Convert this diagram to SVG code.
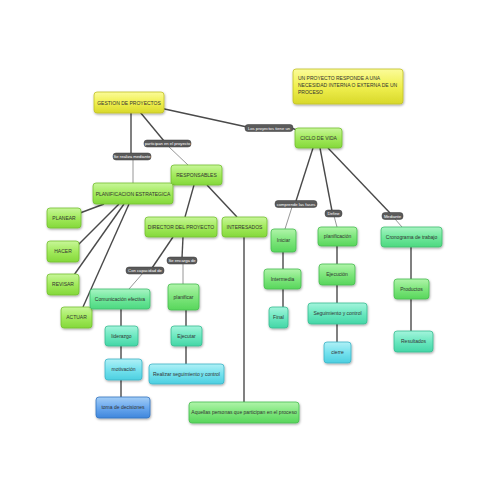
<svg xmlns="http://www.w3.org/2000/svg" width="495" height="495" viewBox="0 0 495 495">
<defs>
<linearGradient id="gY" x1="0" y1="0" x2="0" y2="1"><stop offset="0" stop-color="#fbfb9a"/><stop offset="0.5" stop-color="#f0f050"/><stop offset="1" stop-color="#d8d82a"/></linearGradient>
<linearGradient id="gL" x1="0" y1="0" x2="0" y2="1"><stop offset="0" stop-color="#c8f69a"/><stop offset="0.5" stop-color="#a2ea5c"/><stop offset="1" stop-color="#84d83a"/></linearGradient>
<linearGradient id="gG" x1="0" y1="0" x2="0" y2="1"><stop offset="0" stop-color="#b0f4aa"/><stop offset="0.5" stop-color="#7ee67c"/><stop offset="1" stop-color="#58d65c"/></linearGradient>
<linearGradient id="gM" x1="0" y1="0" x2="0" y2="1"><stop offset="0" stop-color="#a8f4c4"/><stop offset="0.5" stop-color="#70e89c"/><stop offset="1" stop-color="#4cd880"/></linearGradient>
<linearGradient id="gT" x1="0" y1="0" x2="0" y2="1"><stop offset="0" stop-color="#a4f4dc"/><stop offset="0.5" stop-color="#6ce8c0"/><stop offset="1" stop-color="#44d6a6"/></linearGradient>
<linearGradient id="gC" x1="0" y1="0" x2="0" y2="1"><stop offset="0" stop-color="#b0f0f6"/><stop offset="0.5" stop-color="#76e2ee"/><stop offset="1" stop-color="#4ccfe0"/></linearGradient>
<linearGradient id="gB" x1="0" y1="0" x2="0" y2="1"><stop offset="0" stop-color="#a4cef6"/><stop offset="0.5" stop-color="#6aa8ee"/><stop offset="1" stop-color="#3f86dc"/></linearGradient>
<filter id="sh" x="-20%" y="-30%" width="140%" height="170%"><feDropShadow dx="0.6" dy="1.2" stdDeviation="0.9" flood-color="#000" flood-opacity="0.35"/></filter>
</defs>
<style>
.n rect{stroke-width:0.8;filter:url(#sh)}
.y rect{fill:url(#gY);stroke:#c2c226}
.l rect{fill:url(#gL);stroke:#74c030}
.g rect{fill:url(#gG);stroke:#48bc50}
.m rect{fill:url(#gM);stroke:#40be70}
.t rect{fill:url(#gT);stroke:#38bc92}
.c rect{fill:url(#gC);stroke:#3cb4c6}
.b rect{fill:url(#gB);stroke:#3474c0}
.n text{font-family:"Liberation Sans",Arial,sans-serif;font-size:5px;fill:#333;text-anchor:middle}
.lk rect{fill:#5a5a5a;stroke:#3a3a3a;stroke-width:0.5}
.lk text{font-family:"Liberation Sans",Arial,sans-serif;font-size:4.2px;fill:#fff;text-anchor:middle}
.d{stroke:#4a4a4a;stroke-width:1.4;fill:none}
.s{stroke:#8a8a8a;stroke-width:0.9;fill:none}
</style>
<rect width="495" height="495" fill="#fff"/>
<g id="connectors">
<line class="d" x1="160" y1="108" x2="247" y2="127"/>
<line class="d" x1="291" y1="128" x2="300" y2="131"/>
<line class="d" x1="140" y1="112" x2="164" y2="141"/>
<line class="s" x1="168" y1="146" x2="188" y2="165"/>
<line class="d" x1="131" y1="112" x2="131" y2="154"/>
<line class="s" x1="133" y1="159" x2="133" y2="184"/>
<line class="d" x1="313" y1="148" x2="296" y2="201"/>
<line class="s" x1="292" y1="207" x2="285" y2="229"/>
<line class="d" x1="320" y1="148" x2="332" y2="211"/>
<line class="s" x1="334" y1="216" x2="337" y2="227"/>
<line class="d" x1="328" y1="148" x2="390" y2="213"/>
<line class="s" x1="395" y1="219" x2="402" y2="227"/>
<line class="d" x1="194" y1="185" x2="185" y2="217"/>
<line class="d" x1="207" y1="185" x2="237" y2="217"/>
<line class="d" x1="104" y1="204" x2="80" y2="213"/>
<line class="d" x1="119" y1="204" x2="77" y2="246"/>
<line class="d" x1="124" y1="204" x2="74" y2="275"/>
<line class="d" x1="129" y1="204" x2="83" y2="307"/>
<line class="d" x1="173" y1="237" x2="152" y2="268"/>
<line class="s" x1="143" y1="273" x2="129" y2="289"/>
<line class="d" x1="183" y1="237" x2="182" y2="258"/>
<line class="s" x1="183" y1="263" x2="183" y2="284"/>
<line class="d" x1="244" y1="237" x2="244" y2="402"/>
<line class="d" x1="283" y1="252" x2="283" y2="307"/>
<line class="d" x1="337" y1="246" x2="337" y2="342"/>
<line class="d" x1="411" y1="247" x2="411" y2="331"/>
<line class="d" x1="121" y1="309" x2="121" y2="397"/>
<line class="d" x1="186" y1="310" x2="186" y2="364"/>
</g>
<g id="link-labels">
<g class="lk" id="lk-tiene"><rect x="245" y="124.5" width="48" height="7" rx="3"/><text x="269" y="129.5">Los proyectos tiene un</text></g>
<g class="lk" id="lk-participan"><rect x="144" y="140" width="47" height="7" rx="3"/><text x="167.5" y="145">participan en el proyecto</text></g>
<g class="lk" id="lk-realiza"><rect x="113" y="153" width="38" height="7" rx="3"/><text x="132" y="158">Se realiza mediante</text></g>
<g class="lk" id="lk-fases"><rect x="275" y="200.5" width="42" height="7" rx="3"/><text x="296" y="205.5">comprende las fases</text></g>
<g class="lk" id="lk-define"><rect x="325" y="210" width="17" height="7" rx="3"/><text x="333.5" y="215">Define</text></g>
<g class="lk" id="lk-mediante"><rect x="382" y="212.5" width="21" height="7" rx="3"/><text x="392.5" y="217.5">Mediante</text></g>
<g class="lk" id="lk-capacidad"><rect x="126" y="267" width="38" height="7" rx="3"/><text x="145" y="272">Con capacidad de</text></g>
<g class="lk" id="lk-encarga"><rect x="167" y="257" width="30" height="7" rx="3"/><text x="182" y="262">Se encarga de</text></g>
</g>
<g class="n y" id="gestion"><rect x="94" y="92" width="70" height="21" rx="3"/><text x="129" y="104.5">GESTION DE PROYECTOS</text></g>
<g class="n y" id="nota"><rect x="293" y="69" width="110" height="35" rx="3"/><text x="298" y="80" style="text-anchor:start">UN PROYECTO RESPONDE A UNA</text><text x="298" y="87" style="text-anchor:start">NECESIDAD INTERNA O EXTERNA DE UN</text><text x="298" y="94" style="text-anchor:start">PROCESO</text></g>
<g class="n l" id="ciclo"><rect x="295" y="128" width="47" height="20" rx="3"/><text x="318.5" y="139.5">CICLO DE VIDA</text></g>
<g class="n l" id="responsables"><rect x="171" y="165" width="51" height="20" rx="3"/><text x="196.5" y="176.5">RESPONSABLES</text></g>
<g class="n l" id="planificacion-estrategica"><rect x="93" y="183" width="80" height="21" rx="3"/><text x="133" y="195.5">PLANIFICACION ESTRATEGICA</text></g>
<g class="n l" id="planear"><rect x="47" y="208" width="34" height="20" rx="3"/><text x="64" y="219.5">PLANEAR</text></g>
<g class="n l" id="hacer"><rect x="47" y="241" width="32" height="21" rx="3"/><text x="63" y="253">HACER</text></g>
<g class="n l" id="revisar"><rect x="47" y="274" width="32" height="21" rx="3"/><text x="63" y="286">REVISAR</text></g>
<g class="n l" id="actuar"><rect x="61" y="307" width="31" height="21" rx="3"/><text x="76.5" y="319">ACTUAR</text></g>
<g class="n l" id="director"><rect x="145" y="217" width="72" height="20" rx="3"/><text x="181" y="228.5">DIRECTOR DEL PROYECTO</text></g>
<g class="n l" id="interesados"><rect x="222" y="217" width="45" height="20" rx="3"/><text x="244.5" y="228.5">INTERESADOS</text></g>
<g class="n g" id="iniciar"><rect x="271" y="229" width="25" height="23" rx="3"/><text x="283.5" y="242">Iniciar</text></g>
<g class="n g" id="planificacion"><rect x="318" y="227" width="39" height="19" rx="3"/><text x="337.5" y="238">planificación</text></g>
<g class="n m" id="cronograma"><rect x="381" y="227" width="61" height="20" rx="3"/><text x="411.5" y="238.5">Cronograma de trabajo</text></g>
<g class="n g" id="intermedia"><rect x="264" y="269" width="37" height="20" rx="3"/><text x="282.5" y="280.5">Intermedia</text></g>
<g class="n g" id="ejecucion"><rect x="319" y="264" width="36" height="21" rx="3"/><text x="337" y="276">Ejecución</text></g>
<g class="n g" id="productos"><rect x="394" y="279" width="35" height="20" rx="3"/><text x="411.5" y="290.5">Productos</text></g>
<g class="n t" id="final"><rect x="269" y="307" width="19" height="21" rx="3"/><text x="278.5" y="319">Final</text></g>
<g class="n t" id="seguimiento"><rect x="308" y="303" width="59" height="21" rx="3"/><text x="337.5" y="315">Seguimiento y control</text></g>
<g class="n c" id="cierre"><rect x="324" y="342" width="27" height="21" rx="3"/><text x="337.5" y="354">cierre</text></g>
<g class="n t" id="resultados"><rect x="394" y="331" width="39" height="21" rx="3"/><text x="413.5" y="343">Resultados</text></g>
<g class="n m" id="comunicacion"><rect x="90" y="289" width="60" height="20" rx="3"/><text x="120" y="300.5">Comunicación efectiva</text></g>
<g class="n g" id="planificar"><rect x="168" y="284" width="31" height="26" rx="3"/><text x="183.5" y="298.5">planificar</text></g>
<g class="n t" id="liderazgo"><rect x="105" y="326" width="33" height="20" rx="3"/><text x="121.5" y="337.5">liderazgo</text></g>
<g class="n t" id="ejecutar"><rect x="171" y="326" width="31" height="20" rx="3"/><text x="186.5" y="337.5">Ejecutar</text></g>
<g class="n c" id="motivacion"><rect x="105" y="359" width="37" height="21" rx="3"/><text x="123.5" y="371">motivación</text></g>
<g class="n c" id="realizar"><rect x="149" y="364" width="75" height="20" rx="3"/><text x="186.5" y="375.5">Realizar seguimiento y control</text></g>
<g class="n b" id="toma"><rect x="96" y="397" width="54" height="21" rx="3"/><text x="123" y="409">toma de decisiones</text></g>
<g class="n g" id="aquellas"><rect x="189" y="402" width="110" height="21" rx="3"/><text x="244" y="414">Aquellas personas que participan en el proceso</text></g>
</svg>
